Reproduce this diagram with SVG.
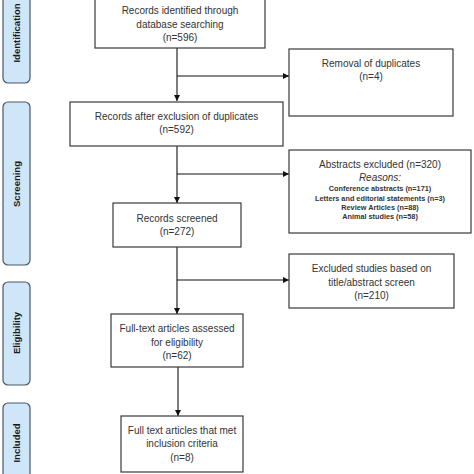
<svg xmlns="http://www.w3.org/2000/svg" width="474" height="474" viewBox="0 0 474 474">
<defs>
<style>
.box{fill:#fff;stroke:#3a3a3a;stroke-width:1.2}
.phase{fill:#cfe5f8;stroke:#4a5866;stroke-width:1.2}
.t{font-family:"Liberation Sans",Arial,sans-serif;font-size:10px;fill:#333;text-anchor:middle}
.s{font-family:"Liberation Sans",Arial,sans-serif;font-size:7.3px;font-weight:bold;fill:#333;text-anchor:middle}
.p{font-family:"Liberation Sans",Arial,sans-serif;font-size:9.5px;font-weight:bold;fill:#1a1a1a;text-anchor:middle}
.c{stroke:#111;stroke-width:1.1;fill:none}
</style>
<marker id="ah" markerUnits="userSpaceOnUse" markerWidth="6" markerHeight="6" refX="6" refY="3" orient="auto">
<path d="M0,0 L6,3 L0,6 Z" fill="#111"/>
</marker>
</defs>

<g id="phase-identification">
<rect class="phase" x="3" y="-25" width="27" height="108" rx="5"/>
<text class="p" transform="translate(20,33) rotate(-90)">Identification</text>
</g>
<g id="phase-screening">
<rect class="phase" x="3" y="102" width="27" height="163" rx="5"/>
<text class="p" transform="translate(20,184) rotate(-90)">Screening</text>
</g>
<g id="phase-eligibility">
<rect class="phase" x="3" y="282" width="27" height="103" rx="5"/>
<text class="p" transform="translate(20,333) rotate(-90)">Eligibility</text>
</g>
<g id="phase-included">
<rect class="phase" x="3" y="403" width="27" height="85" rx="5"/>
<text class="p" transform="translate(20,443) rotate(-90)">Included</text>
</g>

<g id="connectors">
<line class="c" x1="177" y1="48" x2="177" y2="101" marker-end="url(#ah)"/>
<line class="c" x1="177" y1="76" x2="289" y2="76" marker-end="url(#ah)"/>
<line class="c" x1="177" y1="146" x2="177" y2="203" marker-end="url(#ah)"/>
<line class="c" x1="177" y1="174" x2="289" y2="174" marker-end="url(#ah)"/>
<line class="c" x1="177" y1="247" x2="177" y2="314" marker-end="url(#ah)"/>
<line class="c" x1="177" y1="280" x2="289" y2="280" marker-end="url(#ah)"/>
<line class="c" x1="178" y1="367" x2="178" y2="416" marker-end="url(#ah)"/>
</g>

<g id="n-identified">
<rect class="box" x="95" y="-5" width="170" height="53"/>
<text class="t" x="180" y="13.5">Records identified through</text>
<text class="t" x="180" y="27.5">database searching</text>
<text class="t" x="180" y="40.5">(n=596)</text>
</g>
<g id="n-removal">
<rect class="box" x="289" y="49" width="164" height="67"/>
<text class="t" x="371" y="66.5">Removal of duplicates</text>
<text class="t" x="371" y="79.5">(n=4)</text>
</g>
<g id="n-after-dup">
<rect class="box" x="70" y="102" width="213" height="44"/>
<text class="t" x="176.5" y="119.5">Records after exclusion of duplicates</text>
<text class="t" x="176.5" y="132.5">(n=592)</text>
</g>
<g id="n-abstracts-excluded">
<rect class="box" x="289" y="150" width="182" height="83"/>
<text class="t" x="380" y="167.5">Abstracts excluded (n=320)</text>
<text class="t" x="380" y="180.5" font-style="italic">Reasons:</text>
<text class="s" x="380" y="190.5">Conference abstracts (n=171)</text>
<text class="s" x="380" y="200.5">Letters and editorial statements (n=3)</text>
<text class="s" x="380" y="209.5">Review Articles (n=88)</text>
<text class="s" x="380" y="218.5">Animal studies (n=58)</text>
</g>
<g id="n-screened">
<rect class="box" x="113" y="203" width="128" height="44"/>
<text class="t" x="177" y="221.5">Records screened</text>
<text class="t" x="177" y="234.5">(n=272)</text>
</g>
<g id="n-excluded-title">
<rect class="box" x="289" y="254" width="165" height="54"/>
<text class="t" x="371.5" y="271.5">Excluded studies based on</text>
<text class="t" x="371.5" y="285.5">title/abstract screen</text>
<text class="t" x="371.5" y="298.5">(n=210)</text>
</g>
<g id="n-fulltext">
<rect class="box" x="111" y="314" width="132" height="53"/>
<text class="t" x="177" y="331.5">Full-text articles assessed</text>
<text class="t" x="177" y="345.5">for eligibility</text>
<text class="t" x="177" y="358.5">(n=62)</text>
</g>
<g id="n-included">
<rect class="box" x="121" y="416" width="122" height="56"/>
<text class="t" x="182" y="433.5">Full text articles that met</text>
<text class="t" x="182" y="446.5">inclusion criteria</text>
<text class="t" x="182" y="460.5">(n=8)</text>
</g>
</svg>
